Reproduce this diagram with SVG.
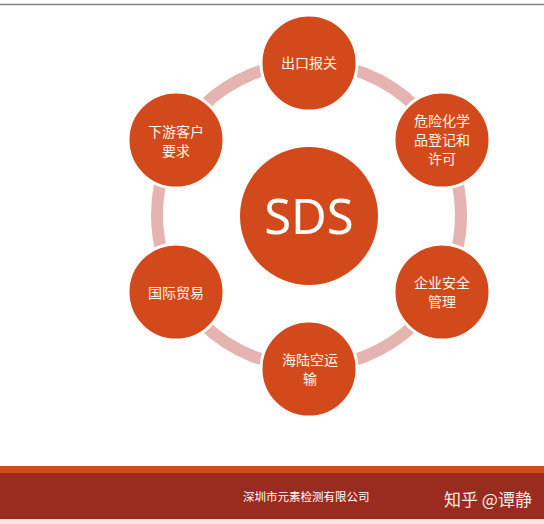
<svg xmlns="http://www.w3.org/2000/svg" width="544" height="524" viewBox="0 0 544 524">
<style>
.node{fill:#d24a1b;stroke:#ffffff;stroke-width:3}
.lbl{font-family:"Noto Sans CJK SC","Noto Sans",sans-serif;font-size:14px;fill:#fff7e8;text-anchor:middle}
.ring{fill:none;stroke:#e5b4b0;stroke-width:12}
</style>
<rect x="0" y="0" width="544" height="524" fill="#ffffff"/>
<line x1="0" y1="4.5" x2="544" y2="4.5" stroke="#808080" stroke-width="1.5"/>
<g id="connectors">
<circle class="ring" cx="309" cy="215" r="152"/>
</g>
<g id="center">
<circle cx="309" cy="216" r="69" fill="#d24a1b"/>
<text x="309" y="234" font-family="'Noto Sans',sans-serif" font-size="49" fill="#ffffff" text-anchor="middle">SDS</text>
</g>
<g id="n1">
<circle class="node" cx="309" cy="63" r="48"/>
<text class="lbl" x="309" y="68">出口报关</text>
</g>
<g id="n2">
<circle class="node" cx="442" cy="140" r="48"/>
<text class="lbl" x="442" y="126">危险化学</text>
<text class="lbl" x="442" y="145">品登记和</text>
<text class="lbl" x="442" y="164">许可</text>
</g>
<g id="n3">
<circle class="node" cx="442" cy="292" r="48"/>
<text class="lbl" x="442" y="288">企业安全</text>
<text class="lbl" x="442" y="307">管理</text>
</g>
<g id="n4">
<circle class="node" cx="309" cy="369" r="48"/>
<text class="lbl" x="310" y="365">海陆空运</text>
<text class="lbl" x="310" y="384">输</text>
</g>
<g id="n5">
<circle class="node" cx="176" cy="292" r="48"/>
<text class="lbl" x="176" y="298">国际贸易</text>
</g>
<g id="n6">
<circle class="node" cx="176" cy="140" r="48"/>
<text class="lbl" x="176" y="137">下游客户</text>
<text class="lbl" x="176" y="156">要求</text>
</g>
<g id="footer">
<rect x="0" y="466" width="544" height="8" fill="#d04a1a"/>
<rect x="0" y="473" width="544" height="46" fill="#9a2c1f"/>
<rect x="0" y="519" width="544" height="5" fill="#efe9e8"/>
<text x="243" y="501" font-family="'Noto Sans CJK SC',sans-serif" font-size="11.5" fill="#ffffff">深圳市元素检测有限公司</text>
<text x="444" y="506" font-family="'Noto Sans CJK SC',sans-serif" font-size="17" fill="#f2ece8">知乎 @谭静</text>
</g>
</svg>
